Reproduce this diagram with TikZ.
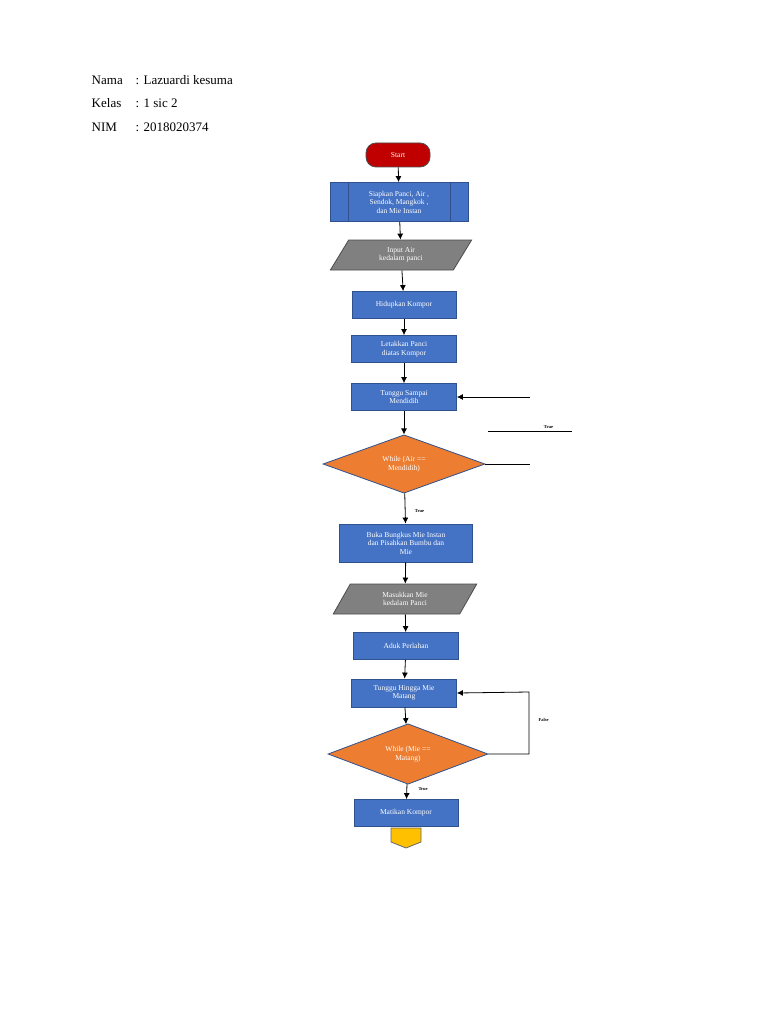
\documentclass[tikz,border=0pt]{standalone}
\usepackage{fontspec}
\setmainfont{Liberation Serif}
\usetikzlibrary{shapes.geometric,arrows.meta}
\definecolor{boxblue}{HTML}{4472C4}
\definecolor{boxedge}{HTML}{2F528F}
\definecolor{diaorange}{HTML}{ED7D31}
\definecolor{startred}{HTML}{C00000}
\definecolor{endyellow}{HTML}{FFC000}
\tikzset{
  every path/.style={line width=0.8pt},
  proc/.style={draw=boxedge,fill=boxblue,text=white,align=center,font=\fontsize{7.5}{8.5}\selectfont,inner sep=1pt},
  io/.style={trapezium,trapezium stretches=true,trapezium left angle=65,trapezium right angle=115,draw=gray!60!black,fill=gray,text=white,align=center,font=\fontsize{7.5}{8.5}\selectfont,inner sep=1pt},
  cond/.style={diamond,draw=boxedge,fill=diaorange,text=white,align=center,font=\fontsize{7.5}{8.5}\selectfont,inner sep=0pt},
  arr/.style={-{Latex[length=6pt,width=6pt]},black},
  small/.style={font=\fontsize{4.5}{5}\selectfont\bfseries}
}
\begin{document}
\begin{tikzpicture}[x=1pt,y=-1pt]
  \useasboundingbox (0,0) rectangle (768,1024);
  \begin{scope}[every node/.style={anchor=west,font=\fontsize{13}{15}\selectfont}]
    \node (n1) at (88,80) {Nama};   \node (v1) at (132,80) {: Lazuardi kesuma};
    \node (n2) at (88,103) {Kelas}; \node (v2) at (132,103) {: 1 sic 2};
    \node (n3) at (88,127) {NIM};   \node (v3) at (132,127) {: 2018020374};
  \end{scope}
  % boxes
  \node (start) [draw=black!70,fill=startred,text=white,rounded corners=10pt,minimum width=64pt,minimum height=24pt,font=\fontsize{7.5}{8.5}\selectfont] at (398,155) {Start};
  \node (siap) [proc,minimum width=138pt,minimum height=39pt] at (399,202) {Siapkan Panci, Air ,\\Sendok, Mangkok ,\\dan Mie Instan};
  \draw[boxedge] (348,183) -- (348,221) (450,183) -- (450,221);
  \node (air) [io,minimum width=142pt,minimum height=30pt] at (401,255) {Input Air\\kedalam panci};
  \node (hidup) [proc,minimum width=104pt,minimum height=27pt] at (404,305) {Hidupkan Kompor};
  \node (letak) [proc,minimum width=105pt,minimum height=27pt] at (404,349) {Letakkan Panci\\diatas Kompor};
  \node (tunggu1) [proc,minimum width=105pt,minimum height=27pt] at (404,397) {Tunggu Sampai\\Mendidih};
  \node (cek1) [cond,minimum width=162pt,minimum height=56pt] at (404,464) {While (Air ==\\Mendidih)};
  \node (buka) [proc,minimum width=133pt,minimum height=38pt] at (406,543) {Buka Bungkus Mie Instan\\dan Pisahkan Bumbu dan\\Mie};
  \node (masuk) [io,minimum width=144pt,minimum height=30pt] at (405,599) {Masukkan Mie\\kedalam Panci};
  \node (aduk) [proc,minimum width=105pt,minimum height=27pt] at (406,646) {Aduk Perlahan};
  \node (tunggu2) [proc,minimum width=105pt,minimum height=28pt] at (404,693) {Tunggu Hingga Mie\\Matang};
  \node (cek2) [cond,minimum width=160pt,minimum height=55pt] at (408,754) {While (Mie ==\\Matang)};
  \node (mati) [proc,minimum width=104pt,minimum height=27pt] at (406,813) {Matikan Kompor};
  \fill[endyellow,draw=black!60] (391,828) -- (421,828) -- (421,842) -- (406,848) -- (391,842) -- cycle;
  % connectors
  \draw[arr] (start) -- (siap);
  \draw[arr] (siap) -- (air);
  \draw[arr] (air) -- (hidup);
  \draw[arr] (hidup) -- (letak);
  \draw[arr] (letak) -- (tunggu1);
  \draw[arr] (tunggu1) -- (cek1);
  \draw[arr] (cek1) -- node[small,right=6pt,pos=0.6] {True} (buka);
  \draw[arr] (buka) -- (masuk);
  \draw[arr] (masuk) -- (aduk);
  \draw[arr] (aduk) -- (tunggu2);
  \draw[arr] (tunggu2) -- (cek2);
  \draw[arr] (cek2) -- node[small,right=8pt,pos=0.3] {True} (mati);
  \coordinate (r1) at (530,397);
  \draw[arr] (r1) -- (tunggu1.east);
  \coordinate (t1) at (488,431); \coordinate (t2) at (572,431);
  \draw (t1) -- node[small,above=-1pt,pos=0.72] {True} (t2);
  \coordinate (r2) at (530,464);
  \draw (cek1.east) -- (r2);
  \draw[arr] (cek2.east) -- (529,754) -- node[small,right=6pt,pos=0.55] {False} (529,692) -- (tunggu2.east);
\end{tikzpicture}
\end{document}
